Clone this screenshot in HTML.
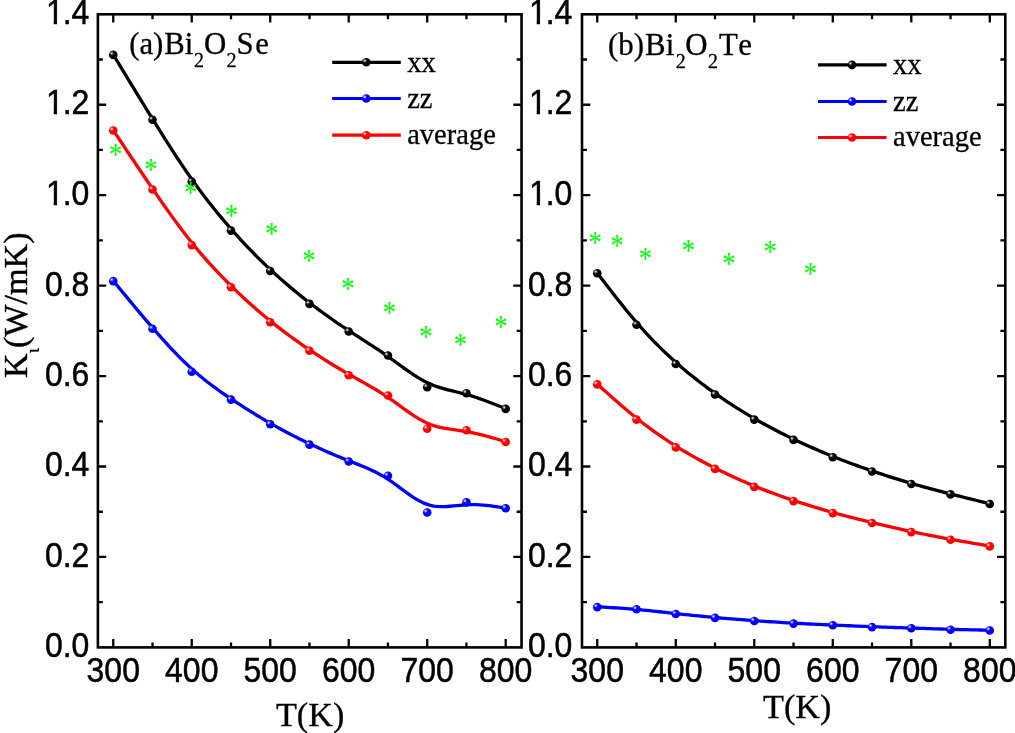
<!DOCTYPE html>
<html><head><meta charset="utf-8"><title>Thermal conductivity</title>
<style>html,body{margin:0;padding:0;background:#fff}svg{display:block}text{font-kerning:none;font-variant-ligatures:none}</style></head>
<body>
<svg width="1015" height="733" viewBox="0 0 1015 733">
<defs>
<radialGradient id="gk" cx="0.32" cy="0.32" r="0.6"><stop offset="0" stop-color="#f4f4f4"/><stop offset="0.13" stop-color="#b0b0b0"/><stop offset="0.32" stop-color="#2c2c2c"/><stop offset="0.5" stop-color="#000"/><stop offset="1" stop-color="#000"/></radialGradient>
<radialGradient id="gr" cx="0.32" cy="0.32" r="0.6"><stop offset="0" stop-color="#fff4f4"/><stop offset="0.13" stop-color="#ffb0b0"/><stop offset="0.32" stop-color="#ff2c2c"/><stop offset="0.5" stop-color="#f00"/><stop offset="1" stop-color="#f00"/></radialGradient>
<radialGradient id="gb" cx="0.32" cy="0.32" r="0.6"><stop offset="0" stop-color="#f4f4ff"/><stop offset="0.13" stop-color="#b0b0ff"/><stop offset="0.32" stop-color="#2c2cff"/><stop offset="0.5" stop-color="#00f"/><stop offset="1" stop-color="#00f"/></radialGradient>
<clipPath id="one" clipPathUnits="userSpaceOnUse"><rect x="-22" y="-30" width="26" height="27.1"/><rect x="-10.02" y="-3.2" width="3.36" height="5"/></clipPath>
</defs>
<rect width="1015" height="733" fill="#fff"/>
<rect x="97.90" y="14.30" width="423.65" height="633.10" fill="none" stroke="#000" stroke-width="2.60"/>
<path d="M113.25 647.40v-8.30M113.25 14.30v8.30M152.50 647.40v-4.90M152.50 14.30v4.90M191.74 647.40v-8.30M191.74 14.30v8.30M230.99 647.40v-4.90M230.99 14.30v4.90M270.23 647.40v-8.30M270.23 14.30v8.30M309.48 647.40v-4.90M309.48 14.30v4.90M348.72 647.40v-8.30M348.72 14.30v8.30M387.96 647.40v-4.90M387.96 14.30v4.90M427.21 647.40v-8.30M427.21 14.30v8.30M466.45 647.40v-4.90M466.45 14.30v4.90M505.70 647.40v-8.30M505.70 14.30v8.30M97.90 602.18h4.90M521.55 602.18h-4.90M97.90 556.96h8.30M521.55 556.96h-8.30M97.90 511.74h4.90M521.55 511.74h-4.90M97.90 466.51h8.30M521.55 466.51h-8.30M97.90 421.29h4.90M521.55 421.29h-4.90M97.90 376.07h8.30M521.55 376.07h-8.30M97.90 330.85h4.90M521.55 330.85h-4.90M97.90 285.63h8.30M521.55 285.63h-8.30M97.90 240.41h4.90M521.55 240.41h-4.90M97.90 195.19h8.30M521.55 195.19h-8.30M97.90 149.96h4.90M521.55 149.96h-4.90M97.90 104.74h8.30M521.55 104.74h-8.30M97.90 59.52h4.90M521.55 59.52h-4.90" stroke="#000" stroke-width="2.3" fill="none"/>
<text transform="translate(113.25,682.0) scale(1,1.075)" font-size="32" text-anchor="middle" stroke="#000" stroke-width="0.45" font-family="Liberation Sans, Arial, sans-serif">300</text>
<text transform="translate(191.74,682.0) scale(1,1.075)" font-size="32" text-anchor="middle" stroke="#000" stroke-width="0.45" font-family="Liberation Sans, Arial, sans-serif">400</text>
<text transform="translate(270.23,682.0) scale(1,1.075)" font-size="32" text-anchor="middle" stroke="#000" stroke-width="0.45" font-family="Liberation Sans, Arial, sans-serif">500</text>
<text transform="translate(348.72,682.0) scale(1,1.075)" font-size="32" text-anchor="middle" stroke="#000" stroke-width="0.45" font-family="Liberation Sans, Arial, sans-serif">600</text>
<text transform="translate(427.21,682.0) scale(1,1.075)" font-size="32" text-anchor="middle" stroke="#000" stroke-width="0.45" font-family="Liberation Sans, Arial, sans-serif">700</text>
<text transform="translate(505.70,682.0) scale(1,1.075)" font-size="32" text-anchor="middle" stroke="#000" stroke-width="0.45" font-family="Liberation Sans, Arial, sans-serif">800</text>
<text transform="translate(89.40,657.30) scale(1,1.075)" font-size="32" text-anchor="end" stroke="#000" stroke-width="0.45" font-family="Liberation Sans, Arial, sans-serif">0.0</text>
<text transform="translate(89.40,566.86) scale(1,1.075)" font-size="32" text-anchor="end" stroke="#000" stroke-width="0.45" font-family="Liberation Sans, Arial, sans-serif">0.2</text>
<text transform="translate(89.40,476.41) scale(1,1.075)" font-size="32" text-anchor="end" stroke="#000" stroke-width="0.45" font-family="Liberation Sans, Arial, sans-serif">0.4</text>
<text transform="translate(89.40,385.97) scale(1,1.075)" font-size="32" text-anchor="end" stroke="#000" stroke-width="0.45" font-family="Liberation Sans, Arial, sans-serif">0.6</text>
<text transform="translate(89.40,295.53) scale(1,1.075)" font-size="32" text-anchor="end" stroke="#000" stroke-width="0.45" font-family="Liberation Sans, Arial, sans-serif">0.8</text>
<text transform="translate(89.40,205.09) scale(1,1.075)" font-size="32" text-anchor="end" stroke="#000" stroke-width="0.45" font-family="Liberation Sans, Arial, sans-serif">.0</text>
<text transform="translate(63.71,205.09) scale(1,1.075)" clip-path="url(#one)" font-size="32" text-anchor="end" stroke="#000" stroke-width="0.45" font-family="Liberation Sans, Arial, sans-serif">1</text>
<text transform="translate(89.40,113.74) scale(1,1.075)" font-size="32" text-anchor="end" stroke="#000" stroke-width="0.45" font-family="Liberation Sans, Arial, sans-serif">.2</text>
<text transform="translate(63.71,113.74) scale(1,1.075)" clip-path="url(#one)" font-size="32" text-anchor="end" stroke="#000" stroke-width="0.45" font-family="Liberation Sans, Arial, sans-serif">1</text>
<text transform="translate(89.40,24.20) scale(1,1.075)" font-size="32" text-anchor="end" stroke="#000" stroke-width="0.45" font-family="Liberation Sans, Arial, sans-serif">.4</text>
<text transform="translate(63.71,24.20) scale(1,1.075)" clip-path="url(#one)" font-size="32" text-anchor="end" stroke="#000" stroke-width="0.45" font-family="Liberation Sans, Arial, sans-serif">1</text>
<rect x="582.00" y="14.30" width="423.30" height="633.10" fill="none" stroke="#000" stroke-width="2.60"/>
<path d="M597.25 647.40v-8.30M597.25 14.30v8.30M636.50 647.40v-4.90M636.50 14.30v4.90M675.76 647.40v-8.30M675.76 14.30v8.30M715.01 647.40v-4.90M715.01 14.30v4.90M754.27 647.40v-8.30M754.27 14.30v8.30M793.52 647.40v-4.90M793.52 14.30v4.90M832.78 647.40v-8.30M832.78 14.30v8.30M872.03 647.40v-4.90M872.03 14.30v4.90M911.29 647.40v-8.30M911.29 14.30v8.30M950.54 647.40v-4.90M950.54 14.30v4.90M989.80 647.40v-8.30M989.80 14.30v8.30M582.00 602.18h4.90M1005.30 602.18h-4.90M582.00 556.96h8.30M1005.30 556.96h-8.30M582.00 511.74h4.90M1005.30 511.74h-4.90M582.00 466.51h8.30M1005.30 466.51h-8.30M582.00 421.29h4.90M1005.30 421.29h-4.90M582.00 376.07h8.30M1005.30 376.07h-8.30M582.00 330.85h4.90M1005.30 330.85h-4.90M582.00 285.63h8.30M1005.30 285.63h-8.30M582.00 240.41h4.90M1005.30 240.41h-4.90M582.00 195.19h8.30M1005.30 195.19h-8.30M582.00 149.96h4.90M1005.30 149.96h-4.90M582.00 104.74h8.30M1005.30 104.74h-8.30M582.00 59.52h4.90M1005.30 59.52h-4.90" stroke="#000" stroke-width="2.3" fill="none"/>
<text transform="translate(597.25,682.0) scale(1,1.075)" font-size="32" text-anchor="middle" stroke="#000" stroke-width="0.45" font-family="Liberation Sans, Arial, sans-serif">300</text>
<text transform="translate(675.76,682.0) scale(1,1.075)" font-size="32" text-anchor="middle" stroke="#000" stroke-width="0.45" font-family="Liberation Sans, Arial, sans-serif">400</text>
<text transform="translate(754.27,682.0) scale(1,1.075)" font-size="32" text-anchor="middle" stroke="#000" stroke-width="0.45" font-family="Liberation Sans, Arial, sans-serif">500</text>
<text transform="translate(832.78,682.0) scale(1,1.075)" font-size="32" text-anchor="middle" stroke="#000" stroke-width="0.45" font-family="Liberation Sans, Arial, sans-serif">600</text>
<text transform="translate(911.29,682.0) scale(1,1.075)" font-size="32" text-anchor="middle" stroke="#000" stroke-width="0.45" font-family="Liberation Sans, Arial, sans-serif">700</text>
<text transform="translate(989.80,682.0) scale(1,1.075)" font-size="32" text-anchor="middle" stroke="#000" stroke-width="0.45" font-family="Liberation Sans, Arial, sans-serif">800</text>
<text transform="translate(572.40,657.30) scale(1,1.075)" font-size="32" text-anchor="end" stroke="#000" stroke-width="0.45" font-family="Liberation Sans, Arial, sans-serif">0.0</text>
<text transform="translate(572.40,566.86) scale(1,1.075)" font-size="32" text-anchor="end" stroke="#000" stroke-width="0.45" font-family="Liberation Sans, Arial, sans-serif">0.2</text>
<text transform="translate(572.40,476.41) scale(1,1.075)" font-size="32" text-anchor="end" stroke="#000" stroke-width="0.45" font-family="Liberation Sans, Arial, sans-serif">0.4</text>
<text transform="translate(572.40,385.97) scale(1,1.075)" font-size="32" text-anchor="end" stroke="#000" stroke-width="0.45" font-family="Liberation Sans, Arial, sans-serif">0.6</text>
<text transform="translate(572.40,295.53) scale(1,1.075)" font-size="32" text-anchor="end" stroke="#000" stroke-width="0.45" font-family="Liberation Sans, Arial, sans-serif">0.8</text>
<text transform="translate(572.40,205.09) scale(1,1.075)" font-size="32" text-anchor="end" stroke="#000" stroke-width="0.45" font-family="Liberation Sans, Arial, sans-serif">.0</text>
<text transform="translate(546.71,205.09) scale(1,1.075)" clip-path="url(#one)" font-size="32" text-anchor="end" stroke="#000" stroke-width="0.45" font-family="Liberation Sans, Arial, sans-serif">1</text>
<text transform="translate(572.40,113.74) scale(1,1.075)" font-size="32" text-anchor="end" stroke="#000" stroke-width="0.45" font-family="Liberation Sans, Arial, sans-serif">.2</text>
<text transform="translate(546.71,113.74) scale(1,1.075)" clip-path="url(#one)" font-size="32" text-anchor="end" stroke="#000" stroke-width="0.45" font-family="Liberation Sans, Arial, sans-serif">1</text>
<text transform="translate(572.40,24.20) scale(1,1.075)" font-size="32" text-anchor="end" stroke="#000" stroke-width="0.45" font-family="Liberation Sans, Arial, sans-serif">.4</text>
<text transform="translate(546.71,24.20) scale(1,1.075)" clip-path="url(#one)" font-size="32" text-anchor="end" stroke="#000" stroke-width="0.45" font-family="Liberation Sans, Arial, sans-serif">1</text>
<path d="M113.25 54.60 L116.52 60.00 L119.79 65.40 L123.06 70.79 L126.33 76.18 L129.60 81.57 L132.87 86.94 L136.14 92.30 L139.41 97.66 L142.68 103.00 L145.95 108.32 L149.22 113.63 L152.50 118.92 L155.77 124.18 L159.04 129.43 L162.31 134.64 L165.58 139.81 L168.85 144.94 L172.12 150.02 L175.39 155.05 L178.66 160.01 L181.93 164.91 L185.20 169.74 L188.47 174.49 L191.74 179.15 L195.01 183.73 L198.28 188.22 L201.55 192.62 L204.82 196.94 L208.09 201.19 L211.36 205.35 L214.63 209.44 L217.90 213.46 L221.17 217.41 L224.44 221.29 L227.71 225.11 L230.99 228.87 L234.26 232.56 L237.53 236.20 L240.80 239.78 L244.07 243.30 L247.34 246.76 L250.61 250.16 L253.88 253.51 L257.15 256.81 L260.42 260.05 L263.69 263.24 L266.96 266.37 L270.23 269.45 L273.50 272.48 L276.77 275.46 L280.04 278.38 L283.31 281.26 L286.58 284.10 L289.85 286.88 L293.12 289.63 L296.39 292.33 L299.66 294.98 L302.93 297.60 L306.20 300.18 L309.48 302.72 L312.75 305.22 L316.02 307.69 L319.29 310.12 L322.56 312.52 L325.83 314.88 L329.10 317.21 L332.37 319.52 L335.64 321.79 L338.91 324.03 L342.18 326.25 L345.45 328.44 L348.72 330.60 L351.99 332.74 L355.26 334.86 L358.53 336.97 L361.80 339.07 L365.07 341.17 L368.34 343.29 L371.61 345.41 L374.88 347.56 L378.15 349.73 L381.42 351.94 L384.69 354.19 L387.96 356.48 L391.24 358.83 L394.51 361.21 L397.78 363.60 L401.05 365.99 L404.32 368.35 L407.59 370.67 L410.86 372.93 L414.13 375.11 L417.40 377.19 L420.67 379.14 L423.94 380.96 L427.21 382.62 L430.48 384.10 L433.75 385.43 L437.02 386.62 L440.29 387.69 L443.56 388.67 L446.83 389.57 L450.10 390.41 L453.37 391.22 L456.64 392.02 L459.91 392.82 L463.18 393.64 L466.45 394.52 L469.73 395.45 L473.00 396.45 L476.27 397.51 L479.54 398.61 L482.81 399.76 L486.08 400.95 L489.35 402.18 L492.62 403.43 L495.89 404.70 L499.16 405.99 L502.43 407.29 L505.70 408.60" fill="none" stroke="#000" stroke-width="3.3" stroke-linejoin="round" stroke-linecap="round"/>
<circle cx="113.25" cy="54.90" r="4.3" fill="url(#gk)"/>
<circle cx="152.50" cy="119.70" r="4.3" fill="url(#gk)"/>
<circle cx="191.74" cy="181.60" r="4.3" fill="url(#gk)"/>
<circle cx="230.99" cy="230.60" r="4.3" fill="url(#gk)"/>
<circle cx="270.23" cy="271.00" r="4.3" fill="url(#gk)"/>
<circle cx="309.48" cy="303.90" r="4.3" fill="url(#gk)"/>
<circle cx="348.72" cy="331.50" r="4.3" fill="url(#gk)"/>
<circle cx="387.96" cy="355.50" r="4.3" fill="url(#gk)"/>
<circle cx="427.21" cy="387.20" r="4.3" fill="url(#gk)"/>
<circle cx="466.45" cy="393.20" r="4.3" fill="url(#gk)"/>
<circle cx="505.70" cy="408.90" r="4.3" fill="url(#gk)"/>
<path d="M113.25 280.80 L116.52 284.77 L119.79 288.75 L123.06 292.71 L126.33 296.67 L129.60 300.62 L132.87 304.55 L136.14 308.47 L139.41 312.36 L142.68 316.24 L145.95 320.09 L149.22 323.91 L152.50 327.70 L155.77 331.46 L159.04 335.18 L162.31 338.85 L165.58 342.47 L168.85 346.04 L172.12 349.54 L175.39 352.97 L178.66 356.33 L181.93 359.61 L185.20 362.80 L188.47 365.90 L191.74 368.90 L195.01 371.80 L198.28 374.60 L201.55 377.31 L204.82 379.94 L208.09 382.49 L211.36 384.97 L214.63 387.38 L217.90 389.74 L221.17 392.05 L224.44 394.32 L227.71 396.55 L230.99 398.75 L234.26 400.93 L237.53 403.08 L240.80 405.21 L244.07 407.31 L247.34 409.39 L250.61 411.44 L253.88 413.47 L257.15 415.47 L260.42 417.45 L263.69 419.39 L266.96 421.31 L270.23 423.20 L273.50 425.06 L276.77 426.89 L280.04 428.70 L283.31 430.47 L286.58 432.22 L289.85 433.94 L293.12 435.63 L296.39 437.30 L299.66 438.94 L302.93 440.56 L306.20 442.15 L309.48 443.72 L312.75 445.26 L316.02 446.78 L319.29 448.27 L322.56 449.74 L325.83 451.19 L329.10 452.62 L332.37 454.03 L335.64 455.42 L338.91 456.78 L342.18 458.13 L345.45 459.46 L348.72 460.77 L351.99 462.06 L355.26 463.35 L358.53 464.65 L361.80 465.98 L365.07 467.34 L368.34 468.76 L371.61 470.25 L374.88 471.82 L378.15 473.49 L381.42 475.28 L384.69 477.18 L387.96 479.23 L391.24 481.43 L394.51 483.74 L397.78 486.13 L401.05 488.55 L404.32 490.97 L407.59 493.34 L410.86 495.63 L414.13 497.79 L417.40 499.79 L420.67 501.59 L423.94 503.14 L427.21 504.40 L430.48 505.35 L433.75 506.02 L437.02 506.43 L440.29 506.62 L443.56 506.64 L446.83 506.51 L450.10 506.27 L453.37 505.97 L456.64 505.63 L459.91 505.29 L463.18 504.99 L466.45 504.77 L469.73 504.65 L473.00 504.63 L476.27 504.70 L479.54 504.86 L482.81 505.09 L486.08 505.38 L489.35 505.73 L492.62 506.13 L495.89 506.57 L499.16 507.03 L502.43 507.51 L505.70 508.00" fill="none" stroke="#00f" stroke-width="3.3" stroke-linejoin="round" stroke-linecap="round"/>
<circle cx="113.25" cy="281.10" r="4.3" fill="url(#gb)"/>
<circle cx="152.50" cy="328.80" r="4.3" fill="url(#gb)"/>
<circle cx="191.74" cy="371.70" r="4.3" fill="url(#gb)"/>
<circle cx="230.99" cy="399.60" r="4.3" fill="url(#gb)"/>
<circle cx="270.23" cy="424.20" r="4.3" fill="url(#gb)"/>
<circle cx="309.48" cy="444.60" r="4.3" fill="url(#gb)"/>
<circle cx="348.72" cy="461.50" r="4.3" fill="url(#gb)"/>
<circle cx="387.96" cy="475.80" r="4.3" fill="url(#gb)"/>
<circle cx="427.21" cy="512.50" r="4.3" fill="url(#gb)"/>
<circle cx="466.45" cy="502.40" r="4.3" fill="url(#gb)"/>
<circle cx="505.70" cy="508.30" r="4.3" fill="url(#gb)"/>
<path d="M113.25 130.20 L116.52 135.12 L119.79 140.03 L123.06 144.94 L126.33 149.85 L129.60 154.74 L132.87 159.63 L136.14 164.50 L139.41 169.37 L142.68 174.21 L145.95 179.04 L149.22 183.85 L152.50 188.63 L155.77 193.40 L159.04 198.13 L162.31 202.83 L165.58 207.48 L168.85 212.09 L172.12 216.65 L175.39 221.15 L178.66 225.58 L181.93 229.94 L185.20 234.23 L188.47 238.43 L191.74 242.55 L195.01 246.57 L198.28 250.51 L201.55 254.36 L204.82 258.12 L208.09 261.81 L211.36 265.42 L214.63 268.96 L217.90 272.44 L221.17 275.85 L224.44 279.20 L227.71 282.49 L230.99 285.73 L234.26 288.93 L237.53 292.07 L240.80 295.17 L244.07 298.21 L247.34 301.21 L250.61 304.16 L253.88 307.07 L257.15 309.93 L260.42 312.74 L263.69 315.50 L266.96 318.21 L270.23 320.88 L273.50 323.51 L276.77 326.08 L280.04 328.62 L283.31 331.11 L286.58 333.56 L289.85 335.98 L293.12 338.36 L296.39 340.70 L299.66 343.01 L302.93 345.29 L306.20 347.53 L309.48 349.75 L312.75 351.94 L316.02 354.10 L319.29 356.24 L322.56 358.35 L325.83 360.43 L329.10 362.48 L332.37 364.51 L335.64 366.50 L338.91 368.47 L342.18 370.41 L345.45 372.32 L348.72 374.20 L351.99 376.05 L355.26 377.89 L358.53 379.71 L361.80 381.54 L365.07 383.37 L368.34 385.23 L371.61 387.12 L374.88 389.04 L378.15 391.02 L381.42 393.06 L384.69 395.16 L387.96 397.35 L391.24 399.62 L394.51 401.95 L397.78 404.32 L401.05 406.71 L404.32 409.08 L407.59 411.41 L410.86 413.67 L414.13 415.85 L417.40 417.90 L420.67 419.82 L423.94 421.57 L427.21 423.12 L430.48 424.46 L433.75 425.60 L437.02 426.57 L440.29 427.40 L443.56 428.10 L446.83 428.70 L450.10 429.23 L453.37 429.71 L456.64 430.17 L459.91 430.62 L463.18 431.09 L466.45 431.62 L469.73 432.21 L473.00 432.86 L476.27 433.57 L479.54 434.34 L482.81 435.16 L486.08 436.01 L489.35 436.91 L492.62 437.83 L495.89 438.78 L499.16 439.74 L502.43 440.72 L505.70 441.70" fill="none" stroke="#f00" stroke-width="3.3" stroke-linejoin="round" stroke-linecap="round"/>
<circle cx="113.25" cy="130.50" r="4.3" fill="url(#gr)"/>
<circle cx="152.50" cy="189.50" r="4.3" fill="url(#gr)"/>
<circle cx="191.74" cy="245.10" r="4.3" fill="url(#gr)"/>
<circle cx="230.99" cy="287.20" r="4.3" fill="url(#gr)"/>
<circle cx="270.23" cy="322.30" r="4.3" fill="url(#gr)"/>
<circle cx="309.48" cy="350.70" r="4.3" fill="url(#gr)"/>
<circle cx="348.72" cy="375.20" r="4.3" fill="url(#gr)"/>
<circle cx="387.96" cy="395.50" r="4.3" fill="url(#gr)"/>
<circle cx="427.21" cy="428.70" r="4.3" fill="url(#gr)"/>
<circle cx="466.45" cy="430.20" r="4.3" fill="url(#gr)"/>
<circle cx="505.70" cy="442.00" r="4.3" fill="url(#gr)"/>
<path d="M597.25 272.90 L600.52 277.19 L603.79 281.47 L607.06 285.74 L610.34 289.99 L613.61 294.21 L616.88 298.40 L620.15 302.54 L623.42 306.63 L626.69 310.67 L629.96 314.64 L633.23 318.54 L636.50 322.37 L639.78 326.11 L643.05 329.77 L646.32 333.34 L649.59 336.84 L652.86 340.27 L656.13 343.61 L659.40 346.89 L662.68 350.09 L665.95 353.22 L669.22 356.29 L672.49 359.29 L675.76 362.23 L679.03 365.11 L682.30 367.93 L685.57 370.69 L688.84 373.40 L692.12 376.05 L695.39 378.65 L698.66 381.21 L701.93 383.71 L705.20 386.17 L708.47 388.59 L711.74 390.96 L715.01 393.30 L718.29 395.60 L721.56 397.86 L724.83 400.08 L728.10 402.27 L731.37 404.42 L734.64 406.54 L737.91 408.62 L741.18 410.66 L744.46 412.67 L747.73 414.65 L751.00 416.59 L754.27 418.50 L757.54 420.38 L760.81 422.22 L764.08 424.03 L767.36 425.81 L770.63 427.56 L773.90 429.29 L777.17 430.98 L780.44 432.66 L783.71 434.30 L786.98 435.92 L790.25 437.52 L793.52 439.10 L796.80 440.66 L800.07 442.19 L803.34 443.71 L806.61 445.20 L809.88 446.67 L813.15 448.13 L816.42 449.56 L819.70 450.97 L822.97 452.36 L826.24 453.72 L829.51 455.07 L832.78 456.40 L836.05 457.71 L839.32 458.99 L842.59 460.26 L845.87 461.51 L849.14 462.74 L852.41 463.95 L855.68 465.15 L858.95 466.33 L862.22 467.49 L865.49 468.64 L868.76 469.78 L872.03 470.90 L875.31 472.01 L878.58 473.11 L881.85 474.19 L885.12 475.26 L888.39 476.32 L891.66 477.37 L894.93 478.40 L898.21 479.42 L901.48 480.42 L904.75 481.41 L908.02 482.39 L911.29 483.35 L914.56 484.30 L917.83 485.23 L921.10 486.15 L924.38 487.06 L927.65 487.95 L930.92 488.84 L934.19 489.71 L937.46 490.58 L940.73 491.44 L944.00 492.29 L947.27 493.13 L950.54 493.97 L953.82 494.80 L957.09 495.62 L960.36 496.44 L963.63 497.26 L966.90 498.07 L970.17 498.88 L973.44 499.69 L976.72 500.50 L979.99 501.30 L983.26 502.10 L986.53 502.90 L989.80 503.70" fill="none" stroke="#000" stroke-width="3.3" stroke-linejoin="round" stroke-linecap="round"/>
<circle cx="597.25" cy="273.20" r="4.3" fill="url(#gk)"/>
<circle cx="636.50" cy="324.70" r="4.3" fill="url(#gk)"/>
<circle cx="675.76" cy="364.00" r="4.3" fill="url(#gk)"/>
<circle cx="715.01" cy="394.50" r="4.3" fill="url(#gk)"/>
<circle cx="754.27" cy="419.60" r="4.3" fill="url(#gk)"/>
<circle cx="793.52" cy="439.90" r="4.3" fill="url(#gk)"/>
<circle cx="832.78" cy="457.20" r="4.3" fill="url(#gk)"/>
<circle cx="872.03" cy="471.50" r="4.3" fill="url(#gk)"/>
<circle cx="911.29" cy="484.00" r="4.3" fill="url(#gk)"/>
<circle cx="950.54" cy="494.40" r="4.3" fill="url(#gk)"/>
<circle cx="989.80" cy="504.00" r="4.3" fill="url(#gk)"/>
<path d="M597.25 606.80 L600.52 606.98 L603.79 607.17 L607.06 607.36 L610.34 607.55 L613.61 607.75 L616.88 607.95 L620.15 608.17 L623.42 608.39 L626.69 608.63 L629.96 608.87 L633.23 609.14 L636.50 609.42 L639.78 609.71 L643.05 610.02 L646.32 610.35 L649.59 610.69 L652.86 611.03 L656.13 611.39 L659.40 611.75 L662.68 612.11 L665.95 612.48 L669.22 612.84 L672.49 613.21 L675.76 613.57 L679.03 613.92 L682.30 614.27 L685.57 614.62 L688.84 614.96 L692.12 615.29 L695.39 615.62 L698.66 615.94 L701.93 616.26 L705.20 616.57 L708.47 616.87 L711.74 617.17 L715.01 617.47 L718.29 617.76 L721.56 618.04 L724.83 618.32 L728.10 618.59 L731.37 618.86 L734.64 619.12 L737.91 619.38 L741.18 619.64 L744.46 619.89 L747.73 620.13 L751.00 620.38 L754.27 620.62 L757.54 620.85 L760.81 621.08 L764.08 621.31 L767.36 621.54 L770.63 621.76 L773.90 621.97 L777.17 622.18 L780.44 622.39 L783.71 622.59 L786.98 622.78 L790.25 622.97 L793.52 623.15 L796.80 623.33 L800.07 623.50 L803.34 623.66 L806.61 623.82 L809.88 623.98 L813.15 624.13 L816.42 624.28 L819.70 624.43 L822.97 624.58 L826.24 624.73 L829.51 624.87 L832.78 625.02 L836.05 625.16 L839.32 625.31 L842.59 625.46 L845.87 625.60 L849.14 625.75 L852.41 625.89 L855.68 626.03 L858.95 626.17 L862.22 626.31 L865.49 626.44 L868.76 626.57 L872.03 626.70 L875.31 626.82 L878.58 626.94 L881.85 627.06 L885.12 627.17 L888.39 627.28 L891.66 627.39 L894.93 627.50 L898.21 627.61 L901.48 627.71 L904.75 627.82 L908.02 627.93 L911.29 628.03 L914.56 628.14 L917.83 628.25 L921.10 628.36 L924.38 628.47 L927.65 628.58 L930.92 628.69 L934.19 628.80 L937.46 628.90 L940.73 629.01 L944.00 629.11 L947.27 629.21 L950.54 629.30 L953.82 629.39 L957.09 629.48 L960.36 629.56 L963.63 629.64 L966.90 629.71 L970.17 629.79 L973.44 629.86 L976.72 629.93 L979.99 630.00 L983.26 630.07 L986.53 630.13 L989.80 630.20" fill="none" stroke="#00f" stroke-width="3.3" stroke-linejoin="round" stroke-linecap="round"/>
<circle cx="597.25" cy="607.10" r="4.3" fill="url(#gb)"/>
<circle cx="636.50" cy="609.30" r="4.3" fill="url(#gb)"/>
<circle cx="675.76" cy="614.00" r="4.3" fill="url(#gb)"/>
<circle cx="715.01" cy="617.90" r="4.3" fill="url(#gb)"/>
<circle cx="754.27" cy="621.00" r="4.3" fill="url(#gb)"/>
<circle cx="793.52" cy="623.60" r="4.3" fill="url(#gb)"/>
<circle cx="832.78" cy="625.30" r="4.3" fill="url(#gb)"/>
<circle cx="872.03" cy="627.10" r="4.3" fill="url(#gb)"/>
<circle cx="911.29" cy="628.30" r="4.3" fill="url(#gb)"/>
<circle cx="950.54" cy="629.70" r="4.3" fill="url(#gb)"/>
<circle cx="989.80" cy="630.50" r="4.3" fill="url(#gb)"/>
<path d="M597.25 384.10 L600.52 387.03 L603.79 389.96 L607.06 392.88 L610.34 395.79 L613.61 398.68 L616.88 401.55 L620.15 404.39 L623.42 407.20 L626.69 409.98 L629.96 412.72 L633.23 415.42 L636.50 418.07 L639.78 420.67 L643.05 423.21 L646.32 425.71 L649.59 428.16 L652.86 430.56 L656.13 432.91 L659.40 435.22 L662.68 437.48 L665.95 439.69 L669.22 441.85 L672.49 443.97 L675.76 446.05 L679.03 448.08 L682.30 450.07 L685.57 452.02 L688.84 453.93 L692.12 455.81 L695.39 457.65 L698.66 459.45 L701.93 461.22 L705.20 462.96 L708.47 464.67 L711.74 466.36 L715.01 468.02 L718.29 469.65 L721.56 471.26 L724.83 472.84 L728.10 474.40 L731.37 475.94 L734.64 477.45 L737.91 478.93 L741.18 480.39 L744.46 481.82 L747.73 483.23 L751.00 484.61 L754.27 485.97 L757.54 487.30 L760.81 488.60 L764.08 489.88 L767.36 491.13 L770.63 492.36 L773.90 493.57 L777.17 494.76 L780.44 495.93 L783.71 497.09 L786.98 498.22 L790.25 499.33 L793.52 500.43 L796.80 501.52 L800.07 502.59 L803.34 503.64 L806.61 504.68 L809.88 505.70 L813.15 506.71 L816.42 507.70 L819.70 508.68 L822.97 509.65 L826.24 510.60 L829.51 511.53 L832.78 512.45 L836.05 513.36 L839.32 514.25 L842.59 515.13 L845.87 515.99 L849.14 516.85 L852.41 517.69 L855.68 518.52 L858.95 519.35 L862.22 520.16 L865.49 520.97 L868.76 521.77 L872.03 522.57 L875.31 523.36 L878.58 524.14 L881.85 524.91 L885.12 525.68 L888.39 526.45 L891.66 527.20 L894.93 527.95 L898.21 528.69 L901.48 529.42 L904.75 530.14 L908.02 530.85 L911.29 531.55 L914.56 532.24 L917.83 532.92 L921.10 533.59 L924.38 534.25 L927.65 534.91 L930.92 535.55 L934.19 536.19 L937.46 536.81 L940.73 537.43 L944.00 538.05 L947.27 538.65 L950.54 539.25 L953.82 539.84 L957.09 540.43 L960.36 541.01 L963.63 541.59 L966.90 542.16 L970.17 542.73 L973.44 543.30 L976.72 543.86 L979.99 544.42 L983.26 544.98 L986.53 545.54 L989.80 546.10" fill="none" stroke="#f00" stroke-width="3.3" stroke-linejoin="round" stroke-linecap="round"/>
<circle cx="597.25" cy="384.40" r="4.3" fill="url(#gr)"/>
<circle cx="636.50" cy="419.60" r="4.3" fill="url(#gr)"/>
<circle cx="675.76" cy="447.40" r="4.3" fill="url(#gr)"/>
<circle cx="715.01" cy="468.90" r="4.3" fill="url(#gr)"/>
<circle cx="754.27" cy="486.90" r="4.3" fill="url(#gr)"/>
<circle cx="793.52" cy="501.10" r="4.3" fill="url(#gr)"/>
<circle cx="832.78" cy="513.10" r="4.3" fill="url(#gr)"/>
<circle cx="872.03" cy="523.00" r="4.3" fill="url(#gr)"/>
<circle cx="911.29" cy="532.10" r="4.3" fill="url(#gr)"/>
<circle cx="950.54" cy="539.70" r="4.3" fill="url(#gr)"/>
<circle cx="989.80" cy="546.40" r="4.3" fill="url(#gr)"/>
<text transform="translate(115.80,164.80) scale(1,1.16)" font-size="26.8" text-anchor="middle" fill="#0f0" font-family="Liberation Serif, Times New Roman, serif">*</text>
<text transform="translate(150.90,180.20) scale(1,1.16)" font-size="26.8" text-anchor="middle" fill="#0f0" font-family="Liberation Serif, Times New Roman, serif">*</text>
<text transform="translate(190.80,202.50) scale(1,1.16)" font-size="26.8" text-anchor="middle" fill="#0f0" font-family="Liberation Serif, Times New Roman, serif">*</text>
<text transform="translate(231.50,225.80) scale(1,1.16)" font-size="26.8" text-anchor="middle" fill="#0f0" font-family="Liberation Serif, Times New Roman, serif">*</text>
<text transform="translate(271.60,244.30) scale(1,1.16)" font-size="26.8" text-anchor="middle" fill="#0f0" font-family="Liberation Serif, Times New Roman, serif">*</text>
<text transform="translate(309.00,270.80) scale(1,1.16)" font-size="26.8" text-anchor="middle" fill="#0f0" font-family="Liberation Serif, Times New Roman, serif">*</text>
<text transform="translate(347.90,299.20) scale(1,1.16)" font-size="26.8" text-anchor="middle" fill="#0f0" font-family="Liberation Serif, Times New Roman, serif">*</text>
<text transform="translate(389.50,323.10) scale(1,1.16)" font-size="26.8" text-anchor="middle" fill="#0f0" font-family="Liberation Serif, Times New Roman, serif">*</text>
<text transform="translate(426.00,346.50) scale(1,1.16)" font-size="26.8" text-anchor="middle" fill="#0f0" font-family="Liberation Serif, Times New Roman, serif">*</text>
<text transform="translate(460.50,354.90) scale(1,1.16)" font-size="26.8" text-anchor="middle" fill="#0f0" font-family="Liberation Serif, Times New Roman, serif">*</text>
<text transform="translate(500.90,336.90) scale(1,1.16)" font-size="26.8" text-anchor="middle" fill="#0f0" font-family="Liberation Serif, Times New Roman, serif">*</text>
<text transform="translate(595.20,252.70) scale(1,1.16)" font-size="26.8" text-anchor="middle" fill="#0f0" font-family="Liberation Serif, Times New Roman, serif">*</text>
<text transform="translate(617.10,256.40) scale(1,1.16)" font-size="26.8" text-anchor="middle" fill="#0f0" font-family="Liberation Serif, Times New Roman, serif">*</text>
<text transform="translate(645.40,269.20) scale(1,1.16)" font-size="26.8" text-anchor="middle" fill="#0f0" font-family="Liberation Serif, Times New Roman, serif">*</text>
<text transform="translate(688.50,260.80) scale(1,1.16)" font-size="26.8" text-anchor="middle" fill="#0f0" font-family="Liberation Serif, Times New Roman, serif">*</text>
<text transform="translate(728.90,274.40) scale(1,1.16)" font-size="26.8" text-anchor="middle" fill="#0f0" font-family="Liberation Serif, Times New Roman, serif">*</text>
<text transform="translate(770.10,261.80) scale(1,1.16)" font-size="26.8" text-anchor="middle" fill="#0f0" font-family="Liberation Serif, Times New Roman, serif">*</text>
<text transform="translate(810.50,284.20) scale(1,1.16)" font-size="26.8" text-anchor="middle" fill="#0f0" font-family="Liberation Serif, Times New Roman, serif">*</text>
<path d="M332.20 62.30H400.80" stroke="#000" stroke-width="3.2"/>
<circle cx="366.30" cy="62.30" r="4.3" fill="url(#gk)"/>
<path d="M332.20 98.50H400.80" stroke="#00f" stroke-width="3.2"/>
<circle cx="366.30" cy="98.50" r="4.3" fill="url(#gb)"/>
<path d="M332.20 135.20H400.80" stroke="#f00" stroke-width="3.2"/>
<circle cx="366.30" cy="135.20" r="4.3" fill="url(#gr)"/>
<text x="407.20" y="71.50" font-size="28.5" stroke="#000" stroke-width="0.3" font-family="Liberation Serif, Times New Roman, serif">xx</text>
<text x="407.20" y="108.00" font-size="28.5" stroke="#000" stroke-width="0.3" font-family="Liberation Serif, Times New Roman, serif">zz</text>
<text x="407.20" y="143.90" font-size="28.5" stroke="#000" stroke-width="0.3" font-family="Liberation Serif, Times New Roman, serif">average</text>
<path d="M818.00 64.90H886.60" stroke="#000" stroke-width="3.2"/>
<circle cx="852.00" cy="64.90" r="4.3" fill="url(#gk)"/>
<path d="M818.00 101.50H886.60" stroke="#00f" stroke-width="3.2"/>
<circle cx="852.00" cy="101.50" r="4.3" fill="url(#gb)"/>
<path d="M818.00 137.50H886.60" stroke="#f00" stroke-width="3.2"/>
<circle cx="852.00" cy="137.50" r="4.3" fill="url(#gr)"/>
<text x="893.00" y="74.10" font-size="28.5" stroke="#000" stroke-width="0.3" font-family="Liberation Serif, Times New Roman, serif">xx</text>
<text x="893.00" y="111.00" font-size="28.5" stroke="#000" stroke-width="0.3" font-family="Liberation Serif, Times New Roman, serif">zz</text>
<text x="893.00" y="145.70" font-size="28.5" stroke="#000" stroke-width="0.3" font-family="Liberation Serif, Times New Roman, serif">average</text>
<text x="129.2" y="54.1" font-size="30.8" stroke="#000" stroke-width="0.3" font-family="Liberation Serif, Times New Roman, serif">(a)<tspan dx="0.8">Bi</tspan><tspan font-size="20" dy="12.4" dx="0.8">2</tspan><tspan dy="-12.4" dx="-0.2">O</tspan><tspan font-size="20" dy="12.4" dx="0.4">2</tspan><tspan dy="-12.4" dx="0" letter-spacing="1.6">Se</tspan></text>
<text x="608" y="55.1" font-size="30.8" stroke="#000" stroke-width="0.3" font-family="Liberation Serif, Times New Roman, serif">(b)<tspan dx="1.2">Bi</tspan><tspan font-size="20" dy="12.6" dx="1.6">2</tspan><tspan dy="-12.6" dx="-0.6">O</tspan><tspan font-size="20" dy="12.6" dx="0.5">2</tspan><tspan dy="-12.6" dx="0.9" letter-spacing="0.5">Te</tspan></text>
<text x="310.1" y="725.9" font-size="34.2" stroke="#000" stroke-width="0.35" text-anchor="middle" font-family="Liberation Serif, Times New Roman, serif">T(K)</text>
<text x="797.2" y="717.6" font-size="34.2" stroke="#000" stroke-width="0.35" text-anchor="middle" font-family="Liberation Serif, Times New Roman, serif">T(K)</text>
<text transform="translate(26.8,378) rotate(-90)" font-size="34.15" stroke="#000" stroke-width="0.35" font-family="Liberation Serif, Times New Roman, serif">K<tspan font-size="19.5" dy="12.4">ι</tspan><tspan dy="-12.4">(W/mK)</tspan></text>
</svg>
</body></html>
